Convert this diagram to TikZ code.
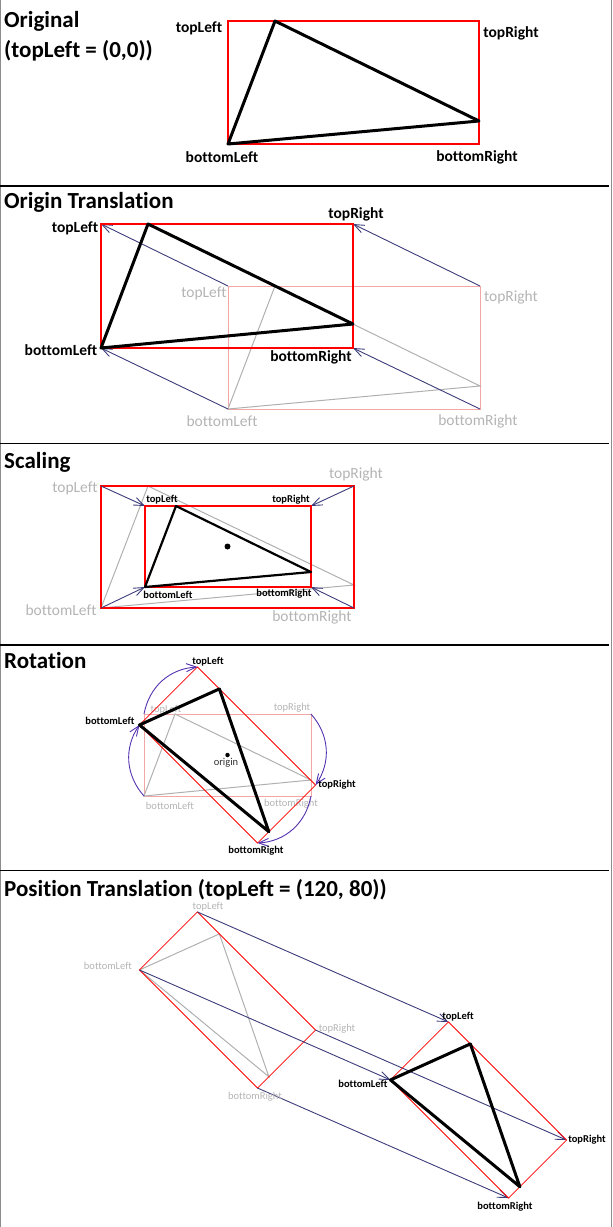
\documentclass[tikz,border=0pt]{standalone}
\usepackage{fontspec}
\setmainfont{Carlito}[Ligatures={NoCommon}]
\usetikzlibrary{arrows.meta,calc}
\definecolor{navy}{HTML}{3C3C7A}
\definecolor{arcpurple}{HTML}{5533B0}
\definecolor{pinkline}{HTML}{F4A6A6}
\definecolor{grayline}{HTML}{B0B0B0}
\definecolor{graytext}{HTML}{B4B4B4}
\definecolor{borderg}{HTML}{8C8C8C}
\definecolor{origintext}{HTML}{333333}
\tikzset{
  title/.style={font=\bfseries\fontsize{23}{27}\selectfont, anchor=base west, inner sep=0pt},
  biglab/.style={font=\bfseries\fontsize{15.5}{18}\selectfont, inner sep=0pt},
  biglight/.style={font=\fontsize{15.5}{18}\selectfont, text=graytext, inner sep=0pt},
  smalllab/.style={font=\bfseries\fontsize{10.5}{12}\selectfont, inner sep=0pt},
  smalllight/.style={font=\fontsize{10.5}{12}\selectfont, text=graytext, inner sep=0pt},
  originlab/.style={font=\fontsize{10.5}{12}\selectfont, text=origintext, inner sep=0pt},
  tri/.style={draw=black, line width=3pt, line join=round},
  trimid/.style={draw=black, line width=2.2pt, line join=round},
  ghosttri/.style={draw=grayline, line width=1pt},
  redrect/.style={draw=red, line width=1.4pt},
  thinred/.style={draw=red, line width=0.8pt},
  pinkrect/.style={draw=pinkline, line width=1pt},
  move/.style={draw=navy, line width=0.9pt, -{Straight Barb[length=10pt,width=8pt]}},
  turn/.style={draw=arcpurple, line width=0.9pt, -{Straight Barb[length=10pt,width=8pt]}, bend left=38},
  sepline/.style={draw=black, line width=1.5pt},
  frameline/.style={draw=borderg, line width=1pt},
  dotmark/.style={fill=black, circle, inner sep=0pt},
}
\begin{document}
\begin{tikzpicture}[x=1pt,y=-1pt]
\useasboundingbox (0,0) rectangle (613,1227);

% ---------- frame ----------
\coordinate (fl1) at (0.5,0);   \coordinate (fl2) at (0.5,1227);
\coordinate (fr1) at (611.5,0); \coordinate (fr2) at (611.5,1227);
\draw[frameline] (fl1) -- (fl2);
\draw[frameline] (fr1) -- (fr2);
\foreach \yy/\nm in {186/s1,443.5/s2,645/s3,870.5/s4}{
  \coordinate (\nm a) at (0,\yy); \coordinate (\nm b) at (609,\yy);
  \draw[sepline] (\nm a) -- (\nm b);
}

% ---------- Panel 1 ----------
\node[title] (t1a) at (4,27) {Original};
\node[title] (t1b) at (4,57) {(topLeft = (0,0))};
\coordinate (a-tl) at (228,21);  \coordinate (a-tr) at (479,21);
\coordinate (a-br) at (479,144); \coordinate (a-bl) at (228,144);
\coordinate (a-t) at (275,21);   \coordinate (a-r) at (479,121);
\draw[redrect] (a-tl) -- (a-tr) -- (a-br) -- (a-bl) -- cycle;
\draw[tri] (a-t) -- (a-r) -- (a-bl) -- cycle;
\node[biglab] (a-ltl) at (199,28) {topLeft};
\node[biglab] (a-ltr) at (511,33) {topRight};
\node[biglab] (a-lbl) at (222,157) {bottomLeft};
\node[biglab] (a-lbr) at (477,157) {bottomRight};

% ---------- Panel 2 ----------
\node[title] (t2) at (4,208) {Origin Translation};
\coordinate (g-tl) at (228,286);  \coordinate (g-tr) at (480,286);
\coordinate (g-br) at (480,409);  \coordinate (g-bl) at (228,409);
\coordinate (g-t) at (275,286);   \coordinate (g-r) at (480,386);
\coordinate (b-tl) at (101,224);  \coordinate (b-tr) at (353,224);
\coordinate (b-br) at (353,348);  \coordinate (b-bl) at (101,348);
\coordinate (b-t) at (148,224);   \coordinate (b-r) at (353,324);
\draw[pinkrect] (g-tl) -- (g-tr) -- (g-br) -- (g-bl) -- cycle;
\draw[ghosttri] (g-t) -- (g-r) -- (g-bl) -- cycle;
\draw[move] (g-tl) -- (b-tl);
\draw[move] (g-tr) -- (b-tr);
\draw[move] (g-bl) -- (b-bl);
\draw[move] (g-br) -- (b-br);
\draw[redrect] (b-tl) -- (b-tr) -- (b-br) -- (b-bl) -- cycle;
\draw[tri] (b-t) -- (b-r) -- (b-bl) -- cycle;
\node[biglab] (b-ltl) at (75,228) {topLeft};
\node[biglab] (b-ltr) at (356,214) {topRight};
\node[biglab] (b-lbl) at (61,350) {bottomLeft};
\node[biglab] (b-lbr) at (311,357) {bottomRight};
\node[biglight] (g-ltl) at (204,293) {topLeft};
\node[biglight] (g-ltr) at (511,297) {topRight};
\node[biglight] (g-lbl) at (222,421) {bottomLeft};
\node[biglight] (g-lbr) at (478,421) {bottomRight};

% ---------- Panel 3 ----------
\node[title] (t3) at (4,468) {Scaling};
\coordinate (h-tl) at (101,486);  \coordinate (h-tr) at (354,486);
\coordinate (h-br) at (354,608);  \coordinate (h-bl) at (101,608);
\coordinate (h-t) at (148,486);   \coordinate (h-r) at (354,585);
\coordinate (i-tl) at (145,506);  \coordinate (i-tr) at (311,506);
\coordinate (i-br) at (311,587);  \coordinate (i-bl) at (145,587);
\coordinate (i-t) at (176,506);   \coordinate (i-r) at (311,572);
\draw[ghosttri] (h-t) -- (h-r) -- (h-bl) -- cycle;
\draw[redrect] (h-tl) -- (h-tr) -- (h-br) -- (h-bl) -- cycle;
\draw[move] (h-tl) -- (i-tl);
\draw[move] (h-tr) -- (i-tr);
\draw[move] (h-bl) -- (i-bl);
\draw[move] (h-br) -- (i-br);
\draw[redrect] (i-tl) -- (i-tr) -- (i-br) -- (i-bl) -- cycle;
\draw[trimid] (i-t) -- (i-r) -- (i-bl) -- cycle;
\node[dotmark, minimum size=6pt] (i-c) at (227.5,546.5) {};
\node[biglight] (h-ltl) at (75,488) {topLeft};
\node[biglight] (h-ltr) at (356,474) {topRight};
\node[biglight] (h-lbl) at (61,610) {bottomLeft};
\node[biglight] (h-lbr) at (312,617) {bottomRight};
\node[smalllab] (i-ltl) at (162,500) {topLeft};
\node[smalllab] (i-ltr) at (291,500) {topRight};
\node[smalllab] (i-lbl) at (168,595) {bottomLeft};
\node[smalllab] (i-lbr) at (284,594) {bottomRight};

% ---------- Panel 4 ----------
\node[title] (t4) at (4,668) {Rotation};
\coordinate (c-tl) at (144,714);  \coordinate (c-tr) at (311,714);
\coordinate (c-br) at (311,796);  \coordinate (c-bl) at (144,796);
\coordinate (c-t) at (175,714);   \coordinate (c-r) at (311,780);
\begin{scope}[rotate around={-45:(227.5,755)}]
  \coordinate (d-tl) at (144,714);  \coordinate (d-tr) at (311,714);
  \coordinate (d-br) at (311,796);  \coordinate (d-bl) at (144,796);
  \coordinate (d-t) at (175,714);   \coordinate (d-r) at (311,780);
\end{scope}
\draw[pinkrect] (c-tl) -- (c-tr) -- (c-br) -- (c-bl) -- cycle;
\draw[ghosttri] (c-t) -- (c-r) -- (c-bl) -- cycle;
\node[smalllight] (c-ltl) at (166,710) {topLeft};
\node[smalllight] (c-ltr) at (292,708) {topRight};
\node[smalllight] (c-lbl) at (170,806) {bottomLeft};
\node[smalllight] (c-lbr) at (291,804) {bottomRight};
\draw[thinred] (d-tl) -- (d-tr) -- (d-br) -- (d-bl) -- cycle;
\draw[turn] (c-tl) to (d-tl);
\draw[turn] (c-bl) to (d-bl);
\draw[turn] (c-tr) to (d-tr);
\draw[turn] (c-br) to (d-br);
\draw[tri] (d-t) -- (d-r) -- (d-bl) -- cycle;
\node[dotmark, minimum size=4.5pt] (d-c) at (227.5,755) {};
\node[originlab] (d-lo) at (226,763) {origin};
\node[smalllab] (d-ltl) at (208,662) {topLeft};
\node[smalllab] (d-lbl) at (110,721) {bottomLeft};
\node[smalllab] (d-ltr) at (337,785) {topRight};
\node[smalllab] (d-lbr) at (256,851) {bottomRight};

% ---------- Panel 5 ----------
\node[title] (t5) at (4,896) {Position Translation (topLeft = (120, 80))};
\begin{scope}[shift={(0,245)}, rotate around={-45:(227.5,755)}]
  \coordinate (e-tl) at (144,714);  \coordinate (e-tr) at (311,714);
  \coordinate (e-br) at (311,796);  \coordinate (e-bl) at (144,796);
  \coordinate (e-t) at (175,714);   \coordinate (e-r) at (311,780);
\end{scope}
\begin{scope}[shift={(251,355)}, rotate around={-45:(227.5,755)}]
  \coordinate (f-tl) at (144,714);  \coordinate (f-tr) at (311,714);
  \coordinate (f-br) at (311,796);  \coordinate (f-bl) at (144,796);
  \coordinate (f-t) at (175,714);   \coordinate (f-r) at (311,780);
\end{scope}
\draw[ghosttri] (e-t) -- (e-r) -- (e-bl) -- cycle;
\draw[thinred] (e-tl) -- (e-tr) -- (e-br) -- (e-bl) -- cycle;
\draw[move] (e-tl) -- (f-tl);
\draw[move] (e-tr) -- (f-tr);
\draw[move] (e-bl) -- (f-bl);
\draw[move] (e-br) -- (f-br);
\draw[thinred] (f-tl) -- (f-tr) -- (f-br) -- (f-bl) -- cycle;
\draw[tri] (f-t) -- (f-r) -- (f-bl) -- cycle;
\node[smalllight] (e-ltl) at (208,907) {topLeft};
\node[smalllight] (e-lbl) at (108,966) {bottomLeft};
\node[smalllight] (e-ltr) at (337,1029) {topRight};
\node[smalllight] (e-lbr) at (255,1097) {bottomRight};
\node[smalllab] (f-ltl) at (458,1017) {topLeft};
\node[smalllab] (f-lbl) at (363,1084) {bottomLeft};
\node[smalllab] (f-ltr) at (587,1140) {topRight};
\node[smalllab] (f-lbr) at (505,1207) {bottomRight};
\end{tikzpicture}
\end{document}
